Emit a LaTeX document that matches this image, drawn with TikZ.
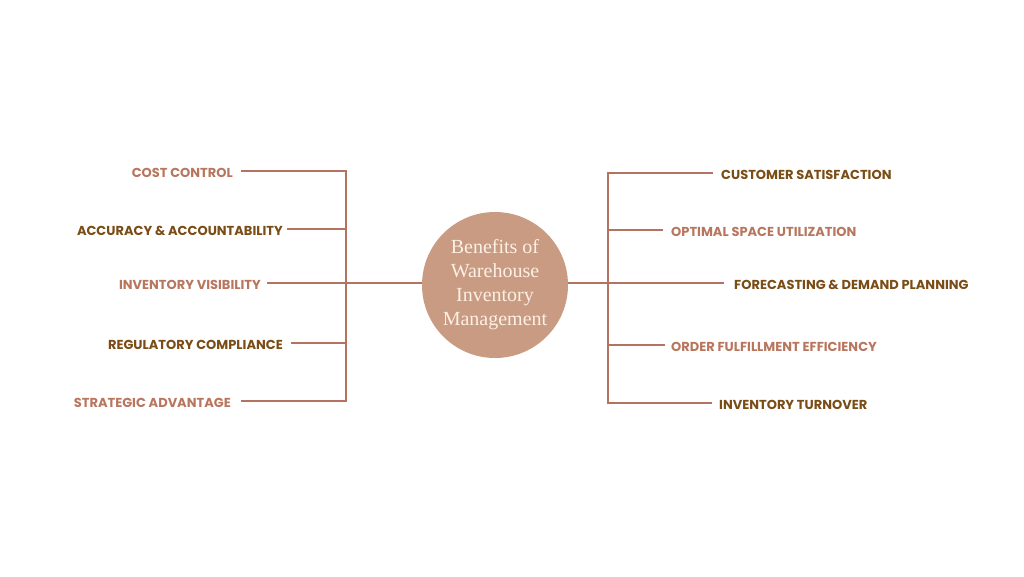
\documentclass[tikz,border=0pt]{standalone}
\usepackage{fontspec}
\setsansfont{Poppins}
\newfontfamily\titlefont{Liberation Serif}
\definecolor{rosy}{RGB}{184,118,94}
\definecolor{umber}{RGB}{122,76,22}
\definecolor{wire}{RGB}{178,116,96}
\definecolor{clay}{RGB}{201,155,130}
\definecolor{cream}{RGB}{252,240,228}

\begin{document}
\begin{tikzpicture}[x=1pt,y=-1pt,
  benefit/.style={font=\sffamily\bfseries\fontsize{13}{15}\selectfont,inner sep=0pt,yshift=-1.5pt},
  light/.style={benefit,text=rosy},
  dark/.style={benefit,text=umber},
  hub/.style={circle,fill=clay,minimum size=146pt,inner sep=0pt,text=cream,align=center,
    font=\titlefont\fontsize{20}{24}\selectfont},
  wire/.style={draw=wire,line width=1.4pt},
]
  \useasboundingbox (0,0) rectangle (1024,576);
  \node[hub] (hub) at (495,285) {Benefits of\\Warehouse\\Inventory\\Management};
  \coordinate (lbus) at (346,0);
  \coordinate (rbus) at (608,0);

  \node[light,anchor=east] (cost) at (233,171) {COST CONTROL};
  \node[dark,anchor=east] (accuracy) at (283,229) {ACCURACY \& ACCOUNTABILITY};
  \node[light,anchor=east] (visibility) at (261,283) {INVENTORY VISIBILITY};
  \node[dark,anchor=east] (compliance) at (283,343) {REGULATORY COMPLIANCE};
  \node[light,anchor=east] (advantage) at (231,401) {STRATEGIC ADVANTAGE};

  \node[dark,anchor=west] (satisfaction) at (721,173) {CUSTOMER SATISFACTION};
  \node[light,anchor=west] (space) at (671,230) {OPTIMAL SPACE UTILIZATION};
  \node[dark,anchor=west] (forecasting) at (734,283) {FORECASTING \& DEMAND PLANNING};
  \node[light,anchor=west] (fulfillment) at (671,345) {ORDER FULFILLMENT EFFICIENCY};
  \node[dark,anchor=west] (turnover) at (719,403) {INVENTORY TURNOVER};

  \draw[wire] ([xshift=8pt,yshift=1.5pt]cost.east) -- ([yshift=1.5pt]cost -| lbus) -- ([yshift=1.5pt]advantage -| lbus) -- ([xshift=10pt,yshift=1.5pt]advantage.east);
  \draw[wire] ([xshift=4pt,yshift=1.5pt]accuracy.east) -- ([yshift=1.5pt]accuracy -| lbus);
  \draw[wire] ([xshift=8pt,yshift=1.5pt]compliance.east) -- ([yshift=1.5pt]compliance -| lbus);
  \draw[wire] ([xshift=6pt,yshift=1.5pt]visibility.east) -- ([yshift=1.5pt]visibility -| hub.west);

  \draw[wire] ([xshift=-8pt,yshift=1.5pt]satisfaction.west) -- ([yshift=1.5pt]satisfaction -| rbus) -- ([yshift=1.5pt]turnover -| rbus) -- ([xshift=-7pt,yshift=1.5pt]turnover.west);
  \draw[wire] ([xshift=-8pt,yshift=1.5pt]space.west) -- ([yshift=1.5pt]space -| rbus);
  \draw[wire] ([xshift=-6pt,yshift=1.5pt]fulfillment.west) -- ([yshift=1.5pt]fulfillment -| rbus);
  \draw[wire] ([yshift=1.5pt]forecasting -| hub.east) -- ([xshift=-10pt,yshift=1.5pt]forecasting.west);
\end{tikzpicture}
\end{document}
